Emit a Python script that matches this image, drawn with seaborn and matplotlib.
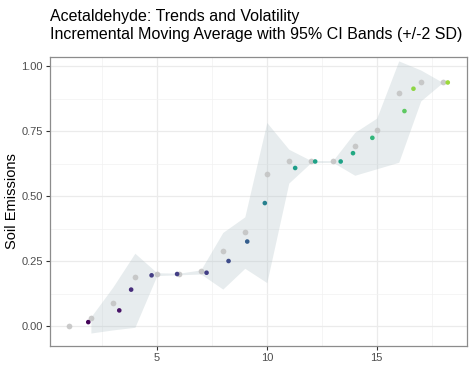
import numpy as np
import pandas as pd
import matplotlib
matplotlib.use("Agg")
import matplotlib.pyplot as plt
import seaborn as sns
from matplotlib.ticker import MultipleLocator

# incremental moving average per time step
steps = [1, 2, 3, 4, 5, 6, 7, 8, 9, 10, 11, 12, 13, 14, 15, 16, 17, 18]
moving_avg = [0.0, 0.03, 0.09, 0.19, 0.20, 0.20, 0.21, 0.29, 0.36, 0.585,
              0.633, 0.633, 0.633, 0.693, 0.755, 0.896, 0.937, 0.937]
ci_lower = [np.nan, -0.027, -0.015, -0.005, 0.194, 0.197, 0.200, 0.142, 0.222, 0.167,
            0.55, 0.628, 0.630, 0.58, 0.605, 0.63, 0.866, 0.937]
ci_upper = [np.nan, 0.035, 0.15, 0.28, 0.205, 0.203, 0.216, 0.36, 0.42, 0.783,
            0.68, 0.637, 0.636, 0.745, 0.80, 1.02, 0.985, 0.937]

# observed values (jittered time positions)
obs_time = [1.88, 3.29, 3.83, 4.76, 5.92, 7.26, 8.26, 9.11, 9.91, 11.29,
            12.2, 13.36, 13.92, 14.8, 16.26, 16.67, 18.23]
obs_value = [0.015, 0.06, 0.14, 0.195, 0.20, 0.205, 0.25, 0.325, 0.473, 0.608,
             0.633, 0.633, 0.665, 0.724, 0.827, 0.913, 0.937]

avg_df = pd.DataFrame({'time': steps, 'avg': moving_avg, 'lo': ci_lower, 'hi': ci_upper})
obs_df = pd.DataFrame({'time': obs_time, 'value': obs_value})

sns.set_theme(style='whitegrid')
plt.rcParams['font.family'] = ['Liberation Sans', 'DejaVu Sans']

fig = plt.figure(figsize=(4.74, 3.86), dpi=100)
ax = fig.add_axes([0.1055, 0.1036, 0.8795, 0.7487])
ax.set_axisbelow(True)

# CI band
ax.fill_between(avg_df['time'], avg_df['lo'], avg_df['hi'],
                color='#B0C2C7', alpha=0.3, linewidth=0, zorder=1)

# moving average points
sns.scatterplot(data=avg_df, x='time', y='avg', ax=ax, color='#C2C2C2',
                alpha=0.85, s=17, linewidth=0, zorder=2)

# observed values
sns.scatterplot(data=obs_df, x='time', y='value', hue='value', ax=ax,
                palette='viridis', hue_norm=(0, 1.1), s=11, linewidth=0,
                legend=False, zorder=3)

ax.set_xlim(0.14, 19.1)
ax.set_ylim(-0.077, 1.035)
ax.xaxis.set_major_locator(MultipleLocator(5))
ax.xaxis.set_minor_locator(MultipleLocator(2.5))
ax.yaxis.set_major_locator(MultipleLocator(0.25))
ax.yaxis.set_minor_locator(MultipleLocator(0.125))
ax.yaxis.set_major_formatter(matplotlib.ticker.FormatStrFormatter('%.2f'))

ax.grid(which='major', color='#EBEBEB', linewidth=0.9)
ax.grid(which='minor', color='#F2F2F2', linewidth=0.5)
for sp in ax.spines.values():
    sp.set_color('#8C8C8C')
    sp.set_linewidth(0.9)

ax.tick_params(axis='both', which='major', length=3, width=0.8, color='#333333',
               labelsize=8, labelcolor='#4D4D4D', pad=2, bottom=True, left=True)
ax.tick_params(which='minor', length=0)

ax.set_xlabel('')
ax.set_ylabel('Soil Emissions', fontsize=10.5, color='black', labelpad=2)

ax.set_title('Acetaldehyde: Trends and Volatility\n'
             'Incremental Moving Average with 95% CI Bands (+/-2 SD)',
             loc='left', fontsize=11.5, color='black', pad=13, linespacing=1.25)

fig.savefig('out.png', dpi=100)
